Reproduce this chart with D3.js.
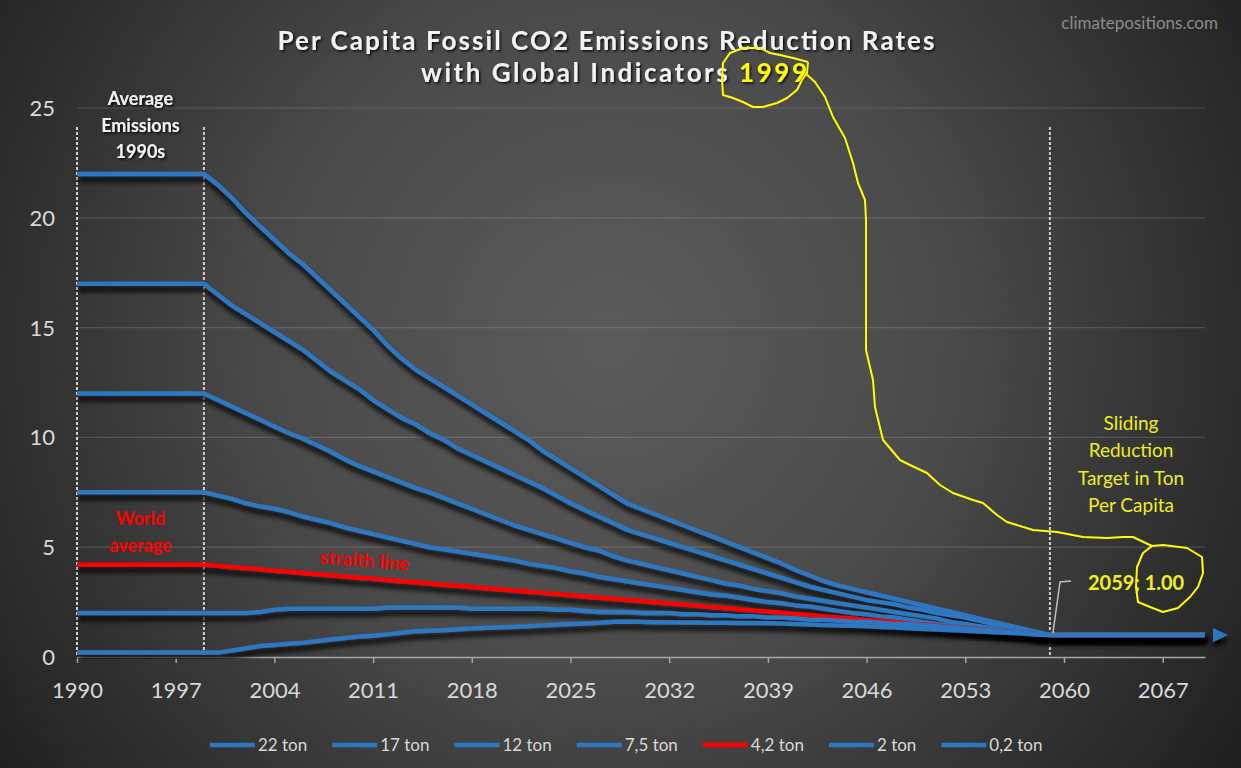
<!DOCTYPE html>
<html>
<head>
<meta charset="utf-8">
<script src="https://cdn.jsdelivr.net/npm/d3@7"></script>
<style>
  body { margin: 0; background: #2a2a2a; }
  svg { display: block; font-family: Lato, 'Open Sans', sans-serif; }
</style>
</head>
<body>
<svg id="board" width="1241" height="768"></svg>
<script>
// years on the category axis, 1990..2070
let years = d3.range(1990, 2071)
let tickYears = [1990, 1997, 2004, 2011, 2018, 2025, 2032, 2039, 2046, 2053, 2060, 2067]
let yTicks = [0, 5, 10, 15, 20, 25]

let seriesNames = ['22 ton', '17 ton', '12 ton', '7,5 ton', '4,2 ton', '2 ton', '0,2 ton']

let s22 = [22, 22, 22, 22, 22, 22, 22, 22, 22, 22,
    21.5, 20.9, 20.2, 19.6, 19.0, 18.4, 17.9, 17.3, 16.7, 16.1,
    15.5, 14.9, 14.2, 13.6, 13.1, 12.7, 12.3, 11.9, 11.5, 11.1,
    10.7, 10.3, 9.9, 9.4, 9.0, 8.6, 8.2, 7.8, 7.4, 7.0,
    6.75, 6.5, 6.25, 6.0, 5.75, 5.5, 5.25, 5.0, 4.75, 4.5,
    4.25, 3.95, 3.7, 3.45, 3.25, 3.1, 2.95, 2.8, 2.65, 2.5,
    2.35, 2.2, 2.05, 1.9, 1.75, 1.6, 1.45, 1.3, 1.15, 1.0,
    1, 1, 1, 1, 1, 1, 1, 1, 1, 1, 1]
let s17 = [17, 17, 17, 17, 17, 17, 17, 17, 17, 17,
    16.5, 16.0, 15.6, 15.2, 14.8, 14.4, 14.0, 13.5, 13.0, 12.6,
    12.2, 11.7, 11.3, 10.9, 10.6, 10.2, 9.9, 9.5, 9.2, 8.9,
    8.6, 8.3, 8.0, 7.7, 7.35, 7.0, 6.7, 6.4, 6.1, 5.8,
    5.6, 5.4, 5.2, 5.0, 4.8, 4.6, 4.4, 4.2, 4.0, 3.8,
    3.6, 3.4, 3.2, 3.05, 2.9, 2.75, 2.6, 2.5, 2.4, 2.25,
    2.15, 2.0, 1.9, 1.8, 1.65, 1.5, 1.4, 1.25, 1.1, 1.0,
    1, 1, 1, 1, 1, 1, 1, 1, 1, 1, 1]
let s12 = [12, 12, 12, 12, 12, 12, 12, 12, 12, 12,
    11.7, 11.4, 11.1, 10.8, 10.5, 10.2, 9.95, 9.65, 9.35, 9.0,
    8.7, 8.45, 8.2, 7.95, 7.7, 7.5, 7.25, 7.0, 6.75, 6.5,
    6.25, 6.0, 5.8, 5.6, 5.4, 5.2, 5.0, 4.85, 4.6, 4.4,
    4.25, 4.1, 3.95, 3.8, 3.65, 3.5, 3.35, 3.25, 3.1, 3.0,
    2.9, 2.75, 2.65, 2.55, 2.45, 2.35, 2.25, 2.15, 2.05, 1.95,
    1.85, 1.75, 1.6, 1.5, 1.4, 1.3, 1.2, 1.15, 1.05, 1.0,
    1, 1, 1, 1, 1, 1, 1, 1, 1, 1, 1]
let s75 = [7.5, 7.5, 7.5, 7.5, 7.5, 7.5, 7.5, 7.5, 7.5, 7.5,
    7.35, 7.2, 7.0, 6.85, 6.75, 6.6, 6.4, 6.25, 6.1, 5.9,
    5.75, 5.6, 5.45, 5.3, 5.15, 5.0, 4.9, 4.8, 4.7, 4.6,
    4.5, 4.4, 4.25, 4.15, 4.05, 3.9, 3.8, 3.65, 3.55, 3.45,
    3.35, 3.25, 3.15, 3.05, 2.95, 2.85, 2.8, 2.7, 2.6, 2.5,
    2.45, 2.35, 2.3, 2.2, 2.1, 2.0, 1.95, 1.85, 1.8, 1.7,
    1.6, 1.5, 1.4, 1.35, 1.3, 1.25, 1.15, 1.1, 1.05, 1.0,
    1, 1, 1, 1, 1, 1, 1, 1, 1, 1, 1]
let s42 = [4.2, 4.2, 4.2, 4.2, 4.2, 4.2, 4.2, 4.2, 4.2, 4.2,
    4.15, 4.09, 4.04, 3.99, 3.93, 3.88, 3.83, 3.77, 3.72, 3.67,
    3.61, 3.56, 3.51, 3.45, 3.4, 3.35, 3.29, 3.24, 3.19, 3.13,
    3.08, 3.03, 2.97, 2.92, 2.87, 2.81, 2.76, 2.71, 2.65, 2.6,
    2.55, 2.49, 2.44, 2.39, 2.33, 2.28, 2.23, 2.17, 2.12, 2.07,
    2.01, 1.96, 1.91, 1.85, 1.8, 1.75, 1.69, 1.64, 1.59, 1.53,
    1.48, 1.43, 1.37, 1.32, 1.27, 1.21, 1.16, 1.11, 1.05, 1.0,
    1, 1, 1, 1, 1, 1, 1, 1, 1, 1, 1]
let s2 = [2, 2, 2, 2, 2, 2, 2, 2, 2, 2,
    2.0, 2.0, 2.0, 2.05, 2.15, 2.2, 2.2, 2.2, 2.2, 2.2,
    2.2, 2.2, 2.25, 2.25, 2.25, 2.25, 2.25, 2.25, 2.2, 2.2,
    2.2, 2.2, 2.2, 2.2, 2.15, 2.15, 2.1, 2.05, 2.05, 2.05,
    2.0, 2.0, 2.0, 1.95, 1.95, 1.9, 1.9, 1.85, 1.85, 1.8,
    1.8, 1.75, 1.7, 1.7, 1.65, 1.6, 1.6, 1.55, 1.5, 1.5,
    1.45, 1.4, 1.35, 1.3, 1.25, 1.2, 1.15, 1.1, 1.05, 1.0,
    1, 1, 1, 1, 1, 1, 1, 1, 1, 1, 1]
let s02 = [0.2, 0.2, 0.2, 0.2, 0.2, 0.2, 0.2, 0.2, 0.2, 0.2,
    0.2, 0.3, 0.4, 0.5, 0.55, 0.6, 0.65, 0.72, 0.8, 0.87,
    0.93, 0.97, 1.03, 1.1, 1.17, 1.2, 1.22, 1.26, 1.3, 1.33,
    1.36, 1.38, 1.4, 1.44, 1.47, 1.5, 1.53, 1.56, 1.6, 1.62,
    1.6, 1.58, 1.58, 1.57, 1.57, 1.56, 1.56, 1.55, 1.55, 1.54,
    1.52, 1.5, 1.48, 1.46, 1.44, 1.42, 1.4, 1.37, 1.34, 1.31,
    1.28, 1.25, 1.22, 1.19, 1.16, 1.13, 1.1, 1.07, 1.03, 1.0,
    1, 1, 1, 1, 1, 1, 1, 1, 1, 1, 1]

// marker years: 1990s average block and the target year
let avgStart = 1990
let avgEnd = 1999
let targetYear = 2059
let targetValue = 1.00

let seriesValues = [s22, s17, s12, s75, s42, s2, s02]

let blue = '#2e78c2'
let red = '#ff0000'
let seriesColors = [blue, blue, blue, blue, red, blue, blue]

let board = d3.select('#board')

let x = d3.scaleLinear().domain([1990, 2070]).range([77, 1205])
let y = d3.scaleLinear().domain([0, 25]).range([657, 108])

let defs = board.append('defs')

let bg = defs.append('radialGradient')
    .attr('id', 'bg')
    .attr('gradientUnits', 'userSpaceOnUse')
    .attr('cx', 610).attr('cy', 340).attr('r', 760)
bg.append('stop').attr('offset', '0%').attr('stop-color', '#5b5b5b')
bg.append('stop').attr('offset', '45%').attr('stop-color', '#4a4a4a')
bg.append('stop').attr('offset', '100%').attr('stop-color', '#1f1f1f')

let lineShadow = defs.append('filter').attr('id', 'lineShadow')
    .attr('x', '-5%').attr('y', '-20%').attr('width', '110%').attr('height', '140%')
lineShadow.append('feDropShadow')
    .attr('dx', 1).attr('dy', 5.5).attr('stdDeviation', 2.8)
    .attr('flood-color', '#000').attr('flood-opacity', 0.95)

let textShadow = defs.append('filter').attr('id', 'textShadow')
textShadow.append('feDropShadow')
    .attr('dx', 1.5).attr('dy', 1.5).attr('stdDeviation', 1)
    .attr('flood-color', '#000').attr('flood-opacity', 0.85)

defs.append('marker')
    .attr('id', 'arrow')
    .attr('markerUnits', 'userSpaceOnUse')
    .attr('viewBox', '0 -8 26 16')
    .attr('refX', 0).attr('refY', 0)
    .attr('markerWidth', 26).attr('markerHeight', 16)
    .attr('orient', 'auto')
    .append('path')
    .attr('d', 'M8,-7L23,0L8,7Z')
    .attr('fill', blue)

board.append('rect')
    .attr('width', 1241).attr('height', 768)
    .attr('fill', 'url(#bg)')

// horizontal gridlines
board.append('g')
    .selectAll('line')
    .data(yTicks.filter((t) => t > 0))
    .enter()
    .append('line')
    .attr('x1', x(1990)).attr('x2', x(2070))
    .attr('y1', (t) => y(t)).attr('y2', (t) => y(t))
    .attr('stroke', '#ffffff').attr('stroke-opacity', 0.14)
    .attr('stroke-width', 1.2)

// y axis labels
board.append('g')
    .selectAll('text')
    .data(yTicks)
    .enter()
    .append('text')
    .attr('x', 55)
    .attr('y', (t) => y(t) + 8)
    .attr('text-anchor', 'end')
    .attr('fill', '#d9d9d9')
    .style('font-size', '22px')
    .text((t) => t)

// x axis
let xAxis = d3.axisBottom(x)
    .tickValues(tickYears)
    .tickFormat(d3.format('d'))
    .tickSize(6)
    .tickSizeOuter(0)

let gx = board.append('g')
    .attr('transform', 'translate(0,' + y(0) + ')')
    .call(xAxis)
gx.select('.domain').attr('stroke', '#a6a6a6').attr('stroke-width', 1.5)
gx.selectAll('.tick line').attr('stroke', '#a6a6a6').attr('stroke-width', 1.5)
gx.selectAll('.tick text')
    .attr('fill', '#d9d9d9')
    .attr('dy', 0)
    .attr('y', 41)
    .style('font-size', '22px')
    .style('font-family', 'Lato, sans-serif')

// dashed year markers
board.append('g')
    .selectAll('line')
    .data([avgStart, avgEnd, targetYear])
    .enter()
    .append('line')
    .attr('x1', (d) => x(d)).attr('x2', (d) => x(d))
    .attr('y1', 127).attr('y2', y(0))
    .attr('stroke', '#d0d0d0')
    .attr('stroke-width', 2)
    .attr('stroke-dasharray', '3,2')

// series lines
let line = d3.line()
    .x((d, i) => x(years[i]))
    .y((d) => y(d))

board.append('g')
    .selectAll('path')
    .data(seriesValues)
    .enter()
    .append('path')
    .attr('d', (d) => line(d))
    .attr('fill', 'none')
    .attr('stroke', (d, i) => seriesColors[i])
    .attr('stroke-width', 4.5)
    .attr('stroke-linejoin', 'round')
    .attr('filter', 'url(#lineShadow)')
    .attr('marker-end', (d, i) => i == seriesValues.length - 1 ? 'url(#arrow)' : null)

// title
let title = board.append('g')
    .attr('fill', '#f2f2f2')
    .attr('filter', 'url(#textShadow)')
    .style('font-weight', 'bold')
    .style('font-size', '26px')
title.append('text')
    .attr('x', 606).attr('y', 50)
    .attr('text-anchor', 'middle')
    .attr('textLength', 657)
    .attr('lengthAdjust', 'spacing')
    .text('Per Capita Fossil CO2 Emissions Reduction Rates')
let t2 = title.append('text')
    .attr('x', 614).attr('y', 82)
    .attr('text-anchor', 'middle')
    .attr('textLength', 386)
    .attr('lengthAdjust', 'spacing')
t2.append('tspan').text('with Global Indicators ')
t2.append('tspan').attr('fill', '#ffff00').text(avgEnd)

board.append('text')
    .attr('x', 1218).attr('y', 29)
    .attr('text-anchor', 'end')
    .attr('fill', '#8c8c8c')
    .style('font-size', '17px')
    .text('climatepositions.com')

// labels on the chart
let whiteLabel = board.append('text')
    .attr('fill', '#f2f2f2')
    .attr('text-anchor', 'middle')
    .attr('filter', 'url(#textShadow)')
    .style('font-weight', 'bold')
    .style('font-size', '18px')
;['Average', 'Emissions', '1990s'].forEach((s, i) => {
    whiteLabel.append('tspan')
        .attr('x', (x(avgStart) + x(avgEnd)) / 2)
        .attr('y', 105 + i * 26.5)
        .text(s)
})

let redLabel = board.append('text')
    .attr('fill', red)
    .attr('text-anchor', 'middle')
    .style('font-weight', 'bold')
    .style('font-size', '18px')
;['World', 'average'].forEach((s, i) => {
    redLabel.append('tspan')
        .attr('x', (x(avgStart) + x(avgEnd)) / 2)
        .attr('y', 525 + i * 27)
        .text(s)
})

board.append('text')
    .attr('transform', 'translate(364,567) rotate(4.5)')
    .attr('text-anchor', 'middle')
    .attr('fill', red)
    .style('font-weight', 'bold')
    .style('font-size', '19px')
    .text('straith line')

let yellowLabel = board.append('text')
    .attr('fill', '#eded1f')
    .attr('text-anchor', 'middle')
    .style('font-size', '19px')
;['Sliding', 'Reduction', 'Target in Ton', 'Per Capita'].forEach((s, i) => {
    yellowLabel.append('tspan')
        .attr('x', 1131)
        .attr('y', 430 + i * 27.3)
        .text(s)
})

// data label of the target point with its leader line
board.append('path')
    .attr('d', 'M' + (x(targetYear) + 3) + ',' + (y(targetValue) - 2) + 'L1060,582L1071,581')
    .attr('fill', 'none')
    .attr('stroke', '#bfbfbf')
    .attr('stroke-width', 1.5)

board.append('text')
    .attr('x', 1088).attr('y', 590)
    .attr('fill', '#f0f020')
    .style('font-weight', 'bold')
    .style('font-size', '20px')
    .text(targetYear + '; ' + targetValue.toFixed(2))

// hand drawn yellow annotation (screen pixels)
let ring1999 = [
    [808, 62], [807, 73], [802, 80], [797, 90], [787, 98], [777, 103], [763, 107], [753, 107],
    [743, 102], [733, 98], [723, 95], [722, 80], [723, 63], [730, 53], [743, 48], [760, 48],
    [770, 53], [780, 55], [793, 58], [808, 62]
]
let tail = [
    [805, 73], [815, 82], [825, 97], [833, 117], [845, 138], [853, 163], [858, 183], [865, 200],
    [866, 220], [866, 290], [866, 350], [873, 380], [875, 407], [883, 440], [900, 460], [910, 465],
    [927, 473], [940, 485], [953, 493], [973, 500], [983, 503], [997, 515], [1007, 522], [1033, 530],
    [1057, 532], [1083, 537], [1107, 538], [1123, 537], [1133, 537], [1152, 546]
]
let ringTarget = [
    [1152, 546], [1163, 545], [1187, 548], [1202, 557], [1203, 573], [1198, 587], [1190, 597],
    [1178, 608], [1163, 612], [1150, 607], [1138, 602], [1136, 587], [1137, 567], [1143, 553], [1152, 546]
]
board.append('g')
    .selectAll('path')
    .data([ring1999, tail, ringTarget])
    .enter()
    .append('path')
    .attr('d', (d) => d3.line()(d))
    .attr('fill', 'none')
    .attr('stroke', '#ffff00')
    .attr('stroke-width', 2)
    .attr('stroke-linejoin', 'round')

// legend
let legend = board.append('g')
let lx = 210
seriesNames.forEach((name, i) => {
    legend.append('line')
        .attr('x1', lx).attr('x2', lx + 45)
        .attr('y1', 745).attr('y2', 745)
        .attr('stroke', seriesColors[i])
        .attr('stroke-width', 4.5)
    let t = legend.append('text')
        .attr('x', lx + 48).attr('y', 751)
        .attr('fill', '#d9d9d9')
        .style('font-size', '17px')
        .text(name)
    lx = lx + 48 + t.node().getComputedTextLength() + 25
})
</script>
</body>
</html>
